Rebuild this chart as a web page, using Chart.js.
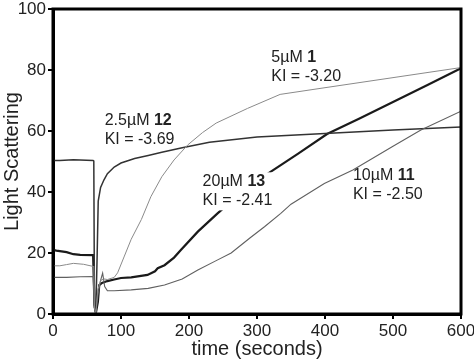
<!DOCTYPE html>
<html><head><meta charset="utf-8">
<script src="https://cdn.jsdelivr.net/npm/chart.js@4.4.0/dist/chart.umd.min.js"></script>
<style>html,body{margin:0;padding:0;background:#fff}</style>
</head><body>
<canvas id="c" width="474" height="361"></canvas>
<script>
// ---- data ----
const xTicks = [0, 100, 200, 300, 400, 500, 600];
const yTicks = [0, 20, 40, 60, 80, 100];

// 2.5µM 12
const t12 = [0, 10, 30, 59, 60, 61, 63, 65, 66.5, 70, 75, 80, 90, 100, 120, 140, 160, 190, 230, 300, 400, 500, 600];
const v12 = [50.3, 50.3, 50.6, 50.3, 50.2, 2, 0.5, 20, 37, 41.5, 44, 46, 48.2, 49.5, 51, 52, 53, 54.5, 56.3, 58, 59.2, 60.3, 61.3];

// 20µM 13
const t13 = [0, 5, 20, 30, 40, 59, 60, 61, 63, 66, 68, 72, 80, 90, 100, 115, 139, 150, 154, 164, 178, 188, 213, 242, 270, 316, 360, 403, 450, 500, 550, 600];
const v13 = [21, 20.8, 20.3, 19.6, 19.4, 19.3, 19.3, 3, 0.3, 4, 9.5, 10.2, 10.8, 11.3, 11.8, 12, 12.8, 14, 15, 16, 18.5, 21, 27, 33, 38.5, 46, 52.5, 59, 64, 69.5, 75, 80.6];

// 5µM 1
const t1 = [0, 10, 20, 30, 45, 59, 60, 61, 63, 66, 70, 75, 80, 90, 95, 105, 115, 130, 144, 160, 178, 198, 220, 240, 286, 334, 400, 500, 600];
const v1 = [15.8, 15.8, 16.2, 16.6, 16.3, 15.6, 15.5, 2, 0.3, 8, 11, 11.5, 11.3, 12, 13.5, 19, 24.5, 31, 38.5, 45, 50.5, 55.4, 59.5, 62.6, 67.4, 72, 74.2, 77.5, 80.8];

// 10µM 11
const t11 = [0, 20, 40, 59, 60, 61, 63, 66, 70, 73, 76, 80, 90, 115, 140, 164, 190, 213, 240, 262, 290, 311, 335, 350, 399, 441, 500, 541, 600];
const v11 = [12, 12, 12.2, 12.3, 12.3, 2, 0.3, 6, 11, 13.4, 9, 7.6, 7.6, 7.9, 8.4, 9.5, 11.5, 14.4, 17.5, 20, 25, 28.6, 33, 36, 42.8, 47.2, 55, 60.3, 66.5];

// annotations
const labelConc = ['5µM ', '2.5µM ', '20µM ', '10µM '];
const labelCmpd = ['1', '12', '13', '11'];
const labelKI = ['KI = -3.20', 'KI = -3.69', 'KI = -2.41', 'KI = -2.50'];
const labelX = [321, 76, 220, 441];
const labelY = [84, 63.5, 43.5, 45.5];
const labelBg = [false, false, true, false];

const pts = (t, v) => t.map((x, i) => ({x: x, y: v[i]}));

const FONT = 'Liberation Sans, Arial, Helvetica, sans-serif';

const frame = {
  id: 'frame',
  afterDatasetsDraw(chart) {
    const {ctx, scales} = chart;
    ctx.save();
    ctx.fillStyle = '#222';
    ctx.textBaseline = 'middle';
    ctx.textAlign = 'left';
    for (let i = 0; i < labelConc.length; i++) {
      const px = scales.x.getPixelForValue(labelX[i]);
      const py = scales.y.getPixelForValue(labelY[i]);
      ctx.font = '16px ' + FONT;
      const w1 = ctx.measureText(labelConc[i]).width;
      const w3 = ctx.measureText(labelKI[i]).width;
      ctx.font = 'bold 16px ' + FONT;
      const w2 = ctx.measureText(labelCmpd[i]).width;
      if (labelBg[i]) {
        ctx.fillStyle = '#fff';
        ctx.fillRect(px - 2, py - 9, Math.max(w1 + w2, w3) + 4, 38);
        ctx.fillStyle = '#222';
      }
      ctx.font = '16px ' + FONT;
      ctx.fillText(labelConc[i], px, py);
      ctx.fillText(labelKI[i], px, py + 19);
      ctx.font = 'bold 16px ' + FONT;
      ctx.fillText(labelCmpd[i], px + w1, py);
    }
    ctx.restore();
  },
  afterDraw(chart) {
    const {ctx, chartArea: a} = chart;
    ctx.save();
    ctx.strokeStyle = '#000';
    ctx.lineWidth = 3;
    ctx.strokeRect(a.left, a.top, a.right - a.left, a.bottom - a.top);
    ctx.restore();
  }
};

new Chart(document.getElementById('c'), {
  type: 'line',
  data: {
    datasets: [
      {label: '5µM 1', data: pts(t1, v1), borderColor: '#8a8a8a', borderWidth: 1},
      {label: '10µM 11', data: pts(t11, v11), borderColor: '#606060', borderWidth: 1.1},
      {label: '2.5µM 12', data: pts(t12, v12), borderColor: '#333', borderWidth: 1.5},
      {label: '20µM 13', data: pts(t13, v13), borderColor: '#1a1a1a', borderWidth: 2.2}
    ]
  },
  options: {
    responsive: false,
    devicePixelRatio: 1,
    animation: false,
    events: [],
    layout: {padding: {top: 9, right: 13, left: 0, bottom: 0}},
    elements: {point: {radius: 0}, line: {tension: 0}},
    plugins: {legend: {display: false}, tooltip: {enabled: false}},
    scales: {
      x: {
        type: 'linear', min: 0, max: 600,
        afterBuildTicks: s => { s.ticks = xTicks.map(v => ({value: v})); },
        afterFit: s => { s.height = 47; s.paddingLeft = 0; s.paddingRight = 0; },
        border: {display: true, color: '#000', width: 3},
        grid: {drawOnChartArea: false, drawTicks: true, tickLength: 5, color: '#000', lineWidth: 2},
        ticks: {color: '#222', font: {family: FONT, size: 17}, padding: 2, maxRotation: 0},
        title: {display: true, text: 'time (seconds)', color: '#222', font: {family: FONT, size: 20}, padding: {top: 0, bottom: 0}}
      },
      y: {
        type: 'linear', min: 0, max: 100,
        afterBuildTicks: s => { s.ticks = yTicks.map(v => ({value: v})); },
        afterFit: s => { s.width = 53; s.paddingTop = 0; s.paddingBottom = 0; },
        border: {display: true, color: '#000', width: 3},
        grid: {drawOnChartArea: false, drawTicks: true, tickLength: 5, color: '#000', lineWidth: 2},
        ticks: {color: '#222', font: {family: FONT, size: 17}, padding: 2},
        title: {display: true, text: 'Light Scattering', color: '#222', font: {family: FONT, size: 20}, padding: {top: 0, bottom: 0}}
      }
    }
  },
  plugins: [frame]
});
</script>
</body></html>
